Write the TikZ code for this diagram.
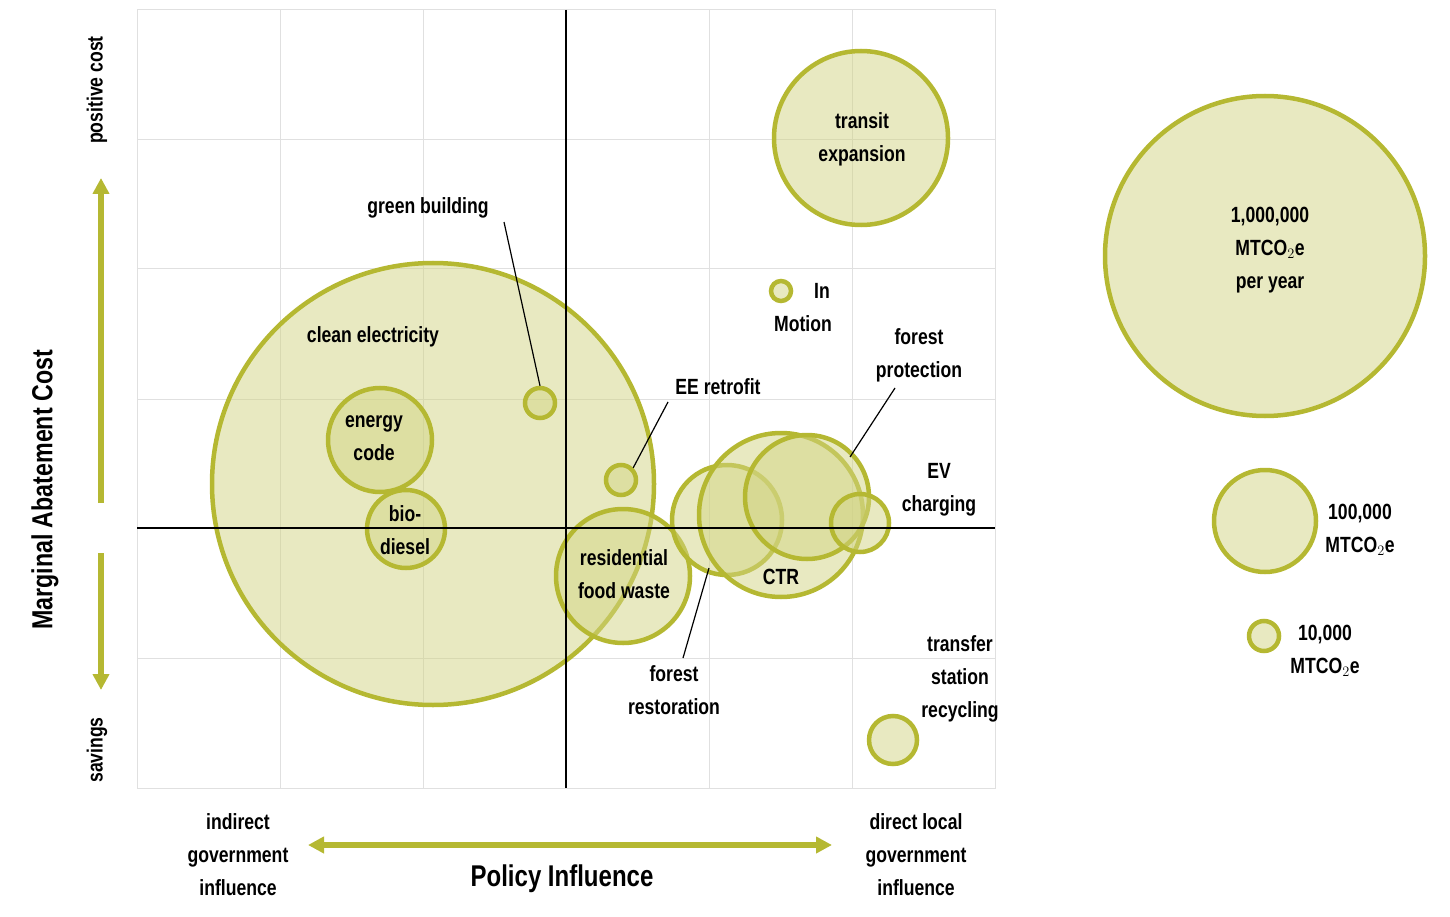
\documentclass[tikz,border=0pt]{standalone}
\usepackage{fontspec}
\setmainfont{Liberation Sans}[FakeStretch=0.8,BoldFont={Liberation Sans Bold}]
\usetikzlibrary{arrows.meta}
\definecolor{olv}{HTML}{B5B832}
\definecolor{olf}{HTML}{D2D484}
\begin{document}
\begin{tikzpicture}[x=1pt,y=-1pt,
 bub/.style={circle,draw=olv,line width=4.5pt,fill=olf,fill opacity=0.5,draw opacity=1,inner sep=0pt},
 lab/.style={font=\fontsize{22}{33}\selectfont\bfseries,align=center,inner sep=0pt},
 lead/.style={line width=1.2pt},
 grid/.style={draw=black!12,line width=1pt},
 oarr/.style={draw=olv,line width=6pt,-{Triangle[length=16pt,width=16pt]}}]
\useasboundingbox (0,0) rectangle (1450,917);
% grid
\draw[grid] (137,10) rectangle (995,788);
\foreach \x in {280,423,709,852} \draw[grid] (\x,10) -- (\x,788);
\foreach \y in {140,269,399,658} \draw[grid] (137,\y) -- (995,\y);
% bubbles
\node[bub,minimum size=442pt] (ce) at (433,484) {};
\node[bub,minimum size=104pt] (ec) at (380,440) {};
\node[bub,minimum size=78pt] (bd) at (406,529) {};
\node[bub,minimum size=30pt] (gb) at (540,403) {};
\node[bub,minimum size=30pt] (ee) at (621,480) {};
\node[bub,minimum size=134pt] (fw) at (623,576) {};
\node[bub,minimum size=110pt] (fr) at (727,520) {};
\node[bub,minimum size=164pt] (ctr) at (781,515) {};
\node[bub,minimum size=124pt] (fp) at (807,497) {};
\node[bub,minimum size=58pt] (ev) at (860,523) {};
\node[bub,minimum size=174pt] (te) at (861,138) {};
\node[bub,minimum size=20pt] (im) at (781,291) {};
\node[bub,minimum size=48pt] (ts) at (893,740) {};
\node[bub,minimum size=320pt] (l1) at (1265,256) {};
\node[bub,minimum size=102pt] (l2) at (1265,521) {};
\node[bub,minimum size=30pt] (l3) at (1264,636) {};
% axes
\draw[line width=2.5pt] (566,10) coordinate (at) -- (566,788) coordinate (ab);
\draw[line width=2.5pt] (137,528) coordinate (al) -- (995,528) coordinate (ar);
% arrows
\coordinate (u1) at (101,503); \coordinate (u2) at (101,178);
\coordinate (d1) at (101,553); \coordinate (d2) at (101,690);
\coordinate (h1) at (308,845); \coordinate (h2) at (832,845);
\draw[oarr] (u1) -- (u2);
\draw[oarr] (d1) -- (d2);
\draw[oarr,{Triangle[length=16pt,width=16pt]}-{Triangle[length=16pt,width=16pt]}] (h1) -- (h2);
% labels
\node[lab,rotate=90] (pc) at (97,90) {positive cost};
\node[lab,rotate=90] (sv) at (97,750) {savings};
\node[lab,rotate=90,font=\fontsize{29}{33}\selectfont\bfseries] (mac) at (45,490) {Marginal Abatement Cost};
\node[lab] (ind) at (238,855) {indirect\\government\\influence};
\node[lab,font=\fontsize{30}{33}\selectfont\bfseries] (pi) at (562,879) {Policy Influence};
\node[lab] (dir) at (916,855) {direct local\\government\\influence};
\node[lab] (tce) at (373,337) {clean electricity};
\node[lab] (tec) at (374,438) {energy\\code};
\node[lab] (tbd) at (405,530) {bio-\\diesel};
\node[lab] (tgb) at (428,208) {green building};
\node[lab] (tee) at (718,387) {EE retrofit};
\node[lab] (tfw) at (624,574) {residential\\food waste};
\node[lab] (tfr) at (674,690) {forest\\restoration};
\node[lab] (tctr) at (781,577) {CTR};
\node[lab] (tfp) at (919,355) {forest\\protection};
\node[lab] (tev) at (939,490) {EV\\charging};
\node[lab] (tte) at (862,139) {transit\\expansion};
\node[lab] (tim) at (803,308) {\hspace*{38pt}In\\Motion};
\node[lab] (tts) at (960,679) {transfer\\station\\recycling};
\node[lab] (tl1) at (1270,250) {1,000,000\\MTCO$_2$e\\per year};
\node[lab] (tl2) at (1360,530) {100,000\\MTCO$_2$e};
\node[lab] (tl3) at (1325,651) {10,000\\MTCO$_2$e};
% leaders
\draw[lead] (504,222) -- (gb.north);
\draw[lead] (668,402) -- (ee.north east);
\draw[lead] (895,388) -- (850,457);
\draw[lead] (683,658) -- (709,568);
\end{tikzpicture}
\end{document}
